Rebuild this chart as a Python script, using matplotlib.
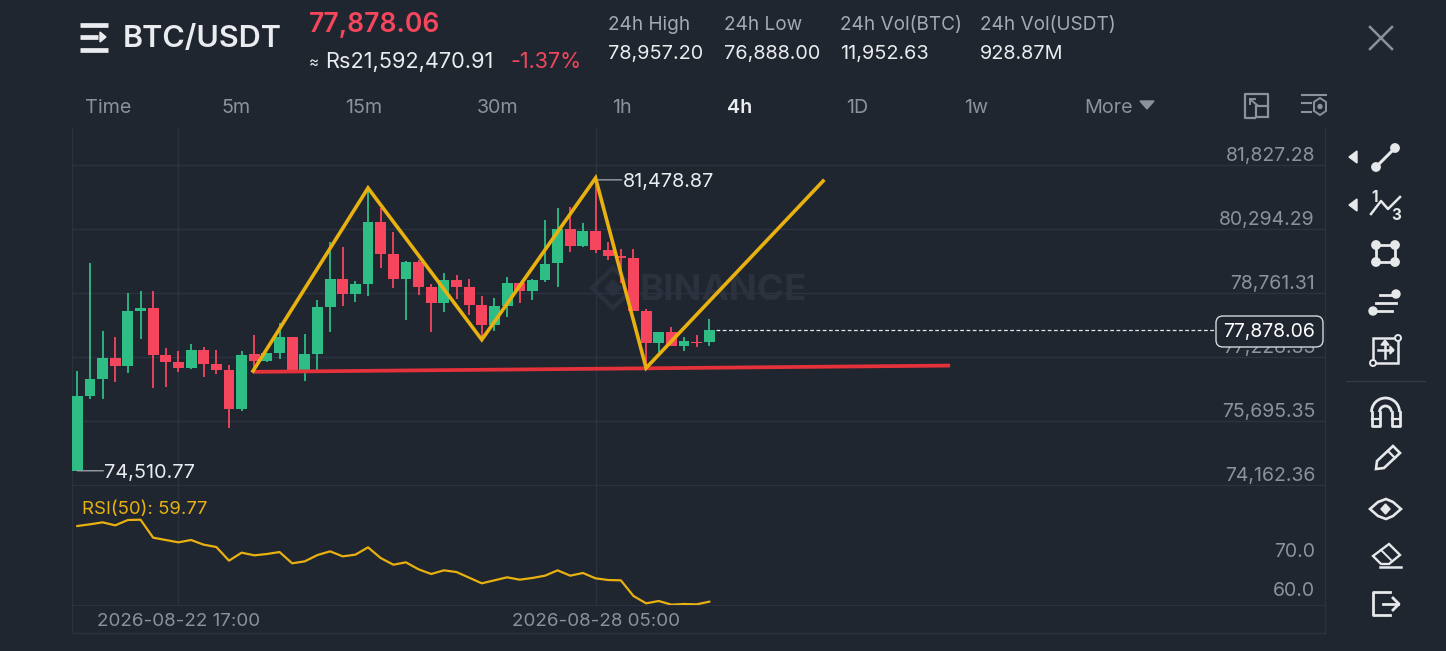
import matplotlib
matplotlib.use('Agg')
import matplotlib.pyplot as plt
from matplotlib.patches import FancyBboxPatch, Rectangle, Circle, Polygon, Arc

# candles, oldest first
opens = [74510.77, 76301.6, 76708.8, 77219.8, 77028.2, 78337.6, 78401.4, 77283.7, 77124.0, 76972.3,
         77411.4, 77068.1, 76924.4, 75998.3, 77307.7, 77148.0, 77339.6, 77722.8, 76924.4, 77299.6,
         78441.4, 79096.0, 78752.8, 78984.3, 80477.3, 79702.8, 79112.0, 79503.2, 78920.4, 78537.2,
         79080.1, 78920.4, 78481.3, 78002.2, 78465.3, 79016.2, 78824.6, 79072.1, 79479.3, 80293.6,
         79902.4, 80245.7, 79798.6, 79654.9, 79599.0, 78329.6, 77579.1, 77834.6, 77507.2, 77603.0, 77587.0]
closes = [76301.6, 76708.8, 77219.8, 77028.2, 78329.6, 78401.4, 77291.7, 77124.0, 76972.3, 77411.4,
          77068.1, 76924.4, 75998.3, 77291.7, 77148.0, 77331.6, 77722.8, 76924.4, 77299.6, 78433.4,
          79096.0, 78752.8, 78984.3, 80477.3, 79702.8, 79112.0, 79503.2, 78920.4, 78537.2, 79080.1,
          78920.4, 78481.3, 78002.2, 78465.3, 79016.2, 78824.6, 79080.1, 79471.3, 80293.6, 79902.4,
          80245.7, 79798.6, 79654.9, 79607.0, 78329.6, 77579.1, 77834.6, 77499.2, 77619.0, 77571.1, 77878.06]
highs = [76908.4, 79495.2, 77866.5, 77722.8, 78760.8, 78824.6, 78808.6, 77451.3, 77371.5, 77547.2,
         77467.3, 77403.4, 77036.2, 77387.5, 77770.7, 77331.6, 78042.2, 77722.8, 77786.7, 78601.0,
         79998.2, 79862.5, 79048.1, 81235.8, 80796.6, 80237.8, 79527.2, 79559.1, 78984.3, 79239.8,
         79191.9, 79112.0, 78696.8, 78641.0, 79159.9, 79016.2, 79096.0, 80517.2, 80796.6, 80836.6,
         80437.4, 81478.87, 79990.3, 79830.6, 79830.6, 78393.5, 77834.6, 77962.3, 77706.8, 77754.8, 78138.0]
lows = [74510.77, 76221.8, 76237.8, 76637.0, 76860.5, 77674.9, 76493.3, 76525.2, 76876.5, 76956.3,
        76764.7, 76828.6, 75535.2, 75950.4, 76884.5, 77108.0, 77195.9, 76892.5, 76668.9, 76892.5,
        77842.6, 78457.3, 78553.1, 78696.8, 79359.5, 78880.5, 78122.0, 78720.8, 77842.6, 78313.6,
        78633.0, 78241.8, 77682.9, 77850.5, 78201.8, 78537.2, 78601.0, 79040.2, 78920.4, 79758.7,
        79862.5, 79734.8, 79559.1, 79000.2, 78329.6, 77004.2, 77363.5, 77499.2, 77371.5, 77483.3, 77499.2]
rsi = [79.18, 79.61, 80.12, 79.35, 80.72, 80.80, 76.19, 75.59, 74.99, 75.59, 74.39, 73.79, 70.29,
       72.34, 71.66, 72.00, 72.51, 69.61, 70.12, 71.74, 72.68, 71.40, 71.83, 73.71, 70.97, 69.26,
       69.86, 68.07, 66.87, 67.81, 67.38, 65.93, 64.48, 65.25, 66.02, 65.42, 65.85, 66.44, 67.81,
       66.44, 67.13, 65.76, 65.33, 65.25, 61.23, 59.35, 59.95, 59.01, 59.18, 59.09, 59.77]

price_ticks = [81827.28, 80294.29, 78761.31, 77228.33, 75695.35, 74162.36]
rsi_ticks = [70.0, 60.0]
time_ticks = [8, 41]
time_labels = ['2026-08-22 17:00', '2026-08-28 05:00']

# hand drawn pattern on top of the candles (bar index, price)
zigzag_x = [13.9, 23.0, 32.0, 41.0, 45.0, 59.0]
zigzag_y = [76900, 81284, 77650, 81523, 76972, 81451]
support_x = [13.9, 69.05]
support_y = [76880, 77030]

stats_head = ['24h High', '24h Low', '24h Vol(BTC)', '24h Vol(USDT)']
stats_vals = ['78,957.20', '76,888.00', '11,952.63', '928.87M']
stats_xpos = [608, 724, 840, 980]
tabs = ['Time', '5m', '15m', '30m', '1h', '4h', '1D', '1w', 'More']
tabs_xpos = [85, 221, 345, 477, 612, 727, 846, 964, 1084]

BG = '#1f2630'
GRID = '#2c3340'
GREEN = '#2ebd85'
RED = '#f6465d'
GOLD = '#e8b10f'
GREY = '#8b929e'
WHITE = '#eaecef'
ICON = '#e6e8ea'
W, H = 1446, 651
plt.rcParams['font.family'] = ['Inter', 'DejaVu Sans']


def box(left, top, right, bottom):
    return [left / W, 1 - bottom / H, (right - left) / W, (bottom - top) / H]


fig = plt.figure(figsize=(W / 100, H / 100), dpi=100, facecolor=BG)

back = fig.add_axes([0, 0, 1, 1], zorder=0)
back.set_xlim(0, W)
back.set_ylim(H, 0)
back.axis('off')
# watermark
back.text(640, 290, 'BINANCE', color='#2b323d', fontsize=26.5, fontweight='bold', va='center', ha='left')
back.add_patch(Polygon([(613, 268), (634, 288), (613, 308), (592, 288)], closed=True, fill=False, ec='#2a313c', lw=3))
back.add_patch(Polygon([(613, 280), (621, 288), (613, 296), (605, 288)], closed=True, color='#2a313c'))

ax = fig.add_axes(box(72, 128, 1325, 485.3), zorder=1, facecolor='none')
ax.set_xlim(-0.42, 98.71)
ax.set_ylim(74162.36, 82720.8)
ax.set_yticks(price_ticks)
ax.set_xticks(time_ticks)
ax.tick_params(length=0, labelleft=False, labelbottom=False)
ax.grid(True, color=GRID, lw=1)
ax.set_axisbelow(True)
for s in ax.spines.values():
    s.set_color(GRID)
ax.spines['top'].set_visible(False)

for i in range(len(opens)):
    col = GREEN if closes[i] >= opens[i] else RED
    ax.vlines(i, lows[i], highs[i], color=col, lw=1.3, zorder=2)
    ax.bar(i, abs(closes[i] - opens[i]), bottom=min(opens[i], closes[i]), width=0.86, color=col, zorder=3)

for p, lab in zip(price_ticks, ['81,827.28', '80,294.29', '78,761.31', '77,228.33', '75,695.35', '74,162.36']):
    ax.annotate(lab, xy=(1, p), xycoords=('axes fraction', 'data'), xytext=(-10, 9),
                textcoords='offset pixels', ha='right', va='center', color=GREY, fontsize=14, zorder=4)

ax.plot([50.5, 90.1], [closes[-1], closes[-1]], color='#e8e8e8', lw=0.9, ls=(0, (3, 2)), zorder=2)
ax.plot(support_x, support_y, color='#e5323a', lw=2.7, zorder=5, solid_capstyle='butt')
ax.plot(zigzag_x, zigzag_y, color=GOLD, lw=2.6, zorder=6, solid_joinstyle='miter')

for bar, val in [(41, 81478.87), (0, 74510.77)]:
    ax.annotate('{:,.2f}'.format(val), xy=(bar, val), xytext=(27, -2), textcoords='offset pixels', va='center',
                color=WHITE, fontsize=14.3, zorder=4)
    ax.annotate('', xy=(bar, val), xytext=(26, 0), textcoords='offset pixels', zorder=4,
                arrowprops=dict(arrowstyle='-', color='#9a9fa8', lw=1, shrinkA=0, shrinkB=0))

ax2 = fig.add_axes(box(72, 485.3, 1325, 604.5), zorder=1, facecolor='none')
ax2.set_xlim(-0.42, 98.71)
ax2.set_ylim(59.05, 89.62)
ax2.plot(range(len(rsi)), rsi, color=GOLD, lw=1.6, zorder=3)
ax2.set_xticks(time_ticks)
ax2.set_xticklabels(time_labels, color=GREY, fontsize=13.5)
ax2.set_yticks([])
ax2.tick_params(axis='x', length=0, pad=6)
ax2.grid(True, axis='x', color=GRID, lw=1)
ax2.set_axisbelow(True)
for s in ax2.spines.values():
    s.set_color(GRID)
ax2.spines['top'].set_visible(False)
for v in rsi_ticks:
    ax2.annotate('%.1f' % v, xy=(1, v), xycoords=('axes fraction', 'data'), xytext=(-10, 10),
                 textcoords='offset pixels', ha='right', va='center', color=GREY, fontsize=14)
ax2.text(82, 510, 'RSI(50): %.2f' % rsi[-1], color=GOLD, fontsize=13.4, va='center', transform=back.transData)

o = fig.add_axes([0, 0, 1, 1], zorder=3, facecolor='none')
o.set_xlim(0, W)
o.set_ylim(H, 0)
o.axis('off')

# panel frame below the rsi strip
o.plot([72, 1325], [633, 633], color=GRID, lw=1)
o.plot([72, 72], [604, 633], color=GRID, lw=1)
o.plot([1325, 1325], [604, 633], color=GRID, lw=1)

# last price tag
o.add_patch(FancyBboxPatch((1216, 316), 107, 31, boxstyle='round,pad=0,rounding_size=7', fc=BG, ec='#d5d8dc', lw=1, zorder=3))
o.text(1315, 332, '77,878.06', color='white', fontsize=14, ha='right', va='center', zorder=4)

# header
for y in [24.5, 37, 49.5]:
    x2 = 108 if y != 37 else 98
    o.plot([80, x2], [y, y], color=WHITE, lw=3.4, solid_capstyle='butt')
o.add_patch(Polygon([(100, 32), (106, 37), (100, 42)], closed=True, color=WHITE))
o.text(123, 39, 'BTC/USDT', color=WHITE, fontsize=22, fontweight='semibold', va='center')
o.text(309, 25, '77,878.06', color=RED, fontsize=19, fontweight='semibold', va='center')
o.text(309, 62, '≈', color=WHITE, fontsize=11, va='center')
o.text(325, 62, 'Rs21,592,470.91', color=WHITE, fontsize=15.7, va='center')
o.text(510, 62, '-1.37%', color=RED, fontsize=15.5, va='center')
for x, head, val in zip(stats_xpos, stats_head, stats_vals):
    o.text(x, 25, head, color='#a4a9b2', fontsize=13.7, va='center')
    o.text(x, 54, val, color=WHITE, fontsize=14.3, va='center')
for x, tab in zip(tabs_xpos, tabs):
    on = tab == '4h'
    o.text(x, 108, tab, color=WHITE if on else GREY, fontsize=14.2, va='center', fontweight='semibold' if on else 'normal')
o.add_patch(Polygon([(1140, 101), (1154, 101), (1147, 109)], closed=True, color=GREY))

# close cross
o.plot([1370, 1392], [27, 49], color=GREY, lw=1.8)
o.plot([1392, 1370], [27, 49], color=GREY, lw=1.8)

# small toolbar buttons top right
o.plot([1255, 1245, 1245, 1268, 1268], [118, 118, 94, 94, 106], color=GREY, lw=1.6)
o.add_patch(Rectangle((1256, 106), 12, 11, fill=False, ec=GREY, lw=1.6))
o.plot([1250, 1257], [99, 105], color=GREY, lw=1.4)
o.plot([1250, 1250, 1255], [104, 99, 99], color=GREY, lw=1.4)
o.plot([1302, 1326], [95, 95], color=GREY, lw=1.5)
o.plot([1302, 1311], [103, 103], color=GREY, lw=1.5)
o.plot([1302, 1311], [112, 112], color=GREY, lw=1.5)
o.add_patch(Polygon([(1320, 98), (1326, 102), (1326, 111), (1320, 115), (1314, 111), (1314, 102)], closed=True, fill=False, ec=GREY, lw=1.4))
o.add_patch(Circle((1320, 106.5), 2, color=GREY))

# drawing tools column
o.add_patch(Polygon([(1357, 151), (1357, 163), (1349, 157)], closed=True, color=ICON))
o.add_patch(Polygon([(1357, 199), (1357, 211), (1349, 205)], closed=True, color=ICON))
o.plot([1376, 1395], [167, 148], color=ICON, lw=2.2)
o.add_patch(Circle((1376, 167), 4.2, color=ICON))
o.add_patch(Circle((1395, 148), 4.2, color=ICON))
o.plot([1371, 1381, 1388, 1400], [214, 201, 209, 197], color=ICON, lw=1.8)
o.text(1375, 197, '1', color=ICON, fontsize=11, fontweight='bold', ha='center', va='center')
o.text(1396, 215, '3', color=ICON, fontsize=11, fontweight='bold', ha='center', va='center')
for x, y in [(1376, 245), (1395, 245), (1376, 262), (1395, 262)]:
    o.add_patch(Circle((x, y), 4.2, color=ICON))
o.plot([1376, 1395, 1395, 1376, 1376], [245, 245, 262, 262, 245], color=ICON, lw=2)
o.plot([1380, 1396], [295, 295], color=ICON, lw=2)
o.plot([1376, 1396], [303, 303], color=ICON, lw=2)
o.plot([1374, 1392], [311, 311], color=ICON, lw=2)
o.add_patch(Circle((1396, 294), 4, color=ICON))
o.add_patch(Circle((1373, 311), 4, color=ICON))
o.add_patch(Rectangle((1373, 338), 25, 25, fill=False, ec=ICON, lw=1.8))
o.add_patch(Circle((1398, 338), 3, fc=BG, ec=ICON, lw=1.4, zorder=3))
o.add_patch(Circle((1373, 363), 3, fc=BG, ec=ICON, lw=1.4, zorder=3))
o.plot([1378, 1392], [350, 350], color=ICON, lw=1.8)
o.plot([1385, 1385], [343, 358], color=ICON, lw=1.8)
o.add_patch(Polygon([(1385, 340), (1381, 345), (1389, 345)], closed=True, color=ICON))
o.add_patch(Polygon([(1394, 350), (1390, 346), (1390, 354)], closed=True, color=ICON))
o.plot([1346, 1425], [381, 381], color='#333a46', lw=1)
# magnet
o.add_patch(Arc((1385.5, 412), 28, 28, theta1=180, theta2=360, ec=ICON, lw=2))
o.add_patch(Arc((1385.5, 412), 12, 12, theta1=180, theta2=360, ec=ICON, lw=2))
o.plot([1371.5, 1371.5, 1379.5, 1379.5], [412, 426, 426, 412], color=ICON, lw=2)
o.plot([1391.5, 1391.5, 1399.5, 1399.5], [412, 426, 426, 412], color=ICON, lw=2)
o.plot([1371.5, 1379.5], [419, 419], color=ICON, lw=1.6)
o.plot([1391.5, 1399.5], [419, 419], color=ICON, lw=1.6)
# pencil
o.add_patch(Polygon([(1393, 446), (1400, 453), (1384, 468), (1376, 469), (1377, 461)], closed=True, fill=False, ec=ICON, lw=1.9))
o.plot([1388, 1395], [451, 458], color=ICON, lw=1.6)
# eye
o.add_patch(Polygon([(1370, 509), (1378, 502), (1386, 499), (1393, 502), (1401, 509), (1393, 516), (1386, 519), (1378, 516)],
                    closed=True, fill=False, ec=ICON, lw=1.9))
o.add_patch(Polygon([(1385.5, 504), (1390, 509), (1385.5, 514), (1381, 509)], closed=True, color=ICON))
# eraser
o.add_patch(Polygon([(1389, 544), (1400, 555), (1389, 564), (1381, 564), (1373, 556)], closed=True, fill=False, ec=ICON, lw=1.7))
o.plot([1381, 1391], [550, 560], color=ICON, lw=1.4)
o.plot([1380, 1401], [567, 567], color=ICON, lw=1.8)
# exit
o.plot([1390, 1373, 1373, 1390], [592, 592, 615, 615], color=ICON, lw=2)
o.plot([1383, 1398], [604, 604], color=ICON, lw=2)
o.plot([1393, 1399, 1393], [598, 604, 610], color=ICON, lw=2)

fig.savefig('out.png', dpi=100, facecolor=BG)
